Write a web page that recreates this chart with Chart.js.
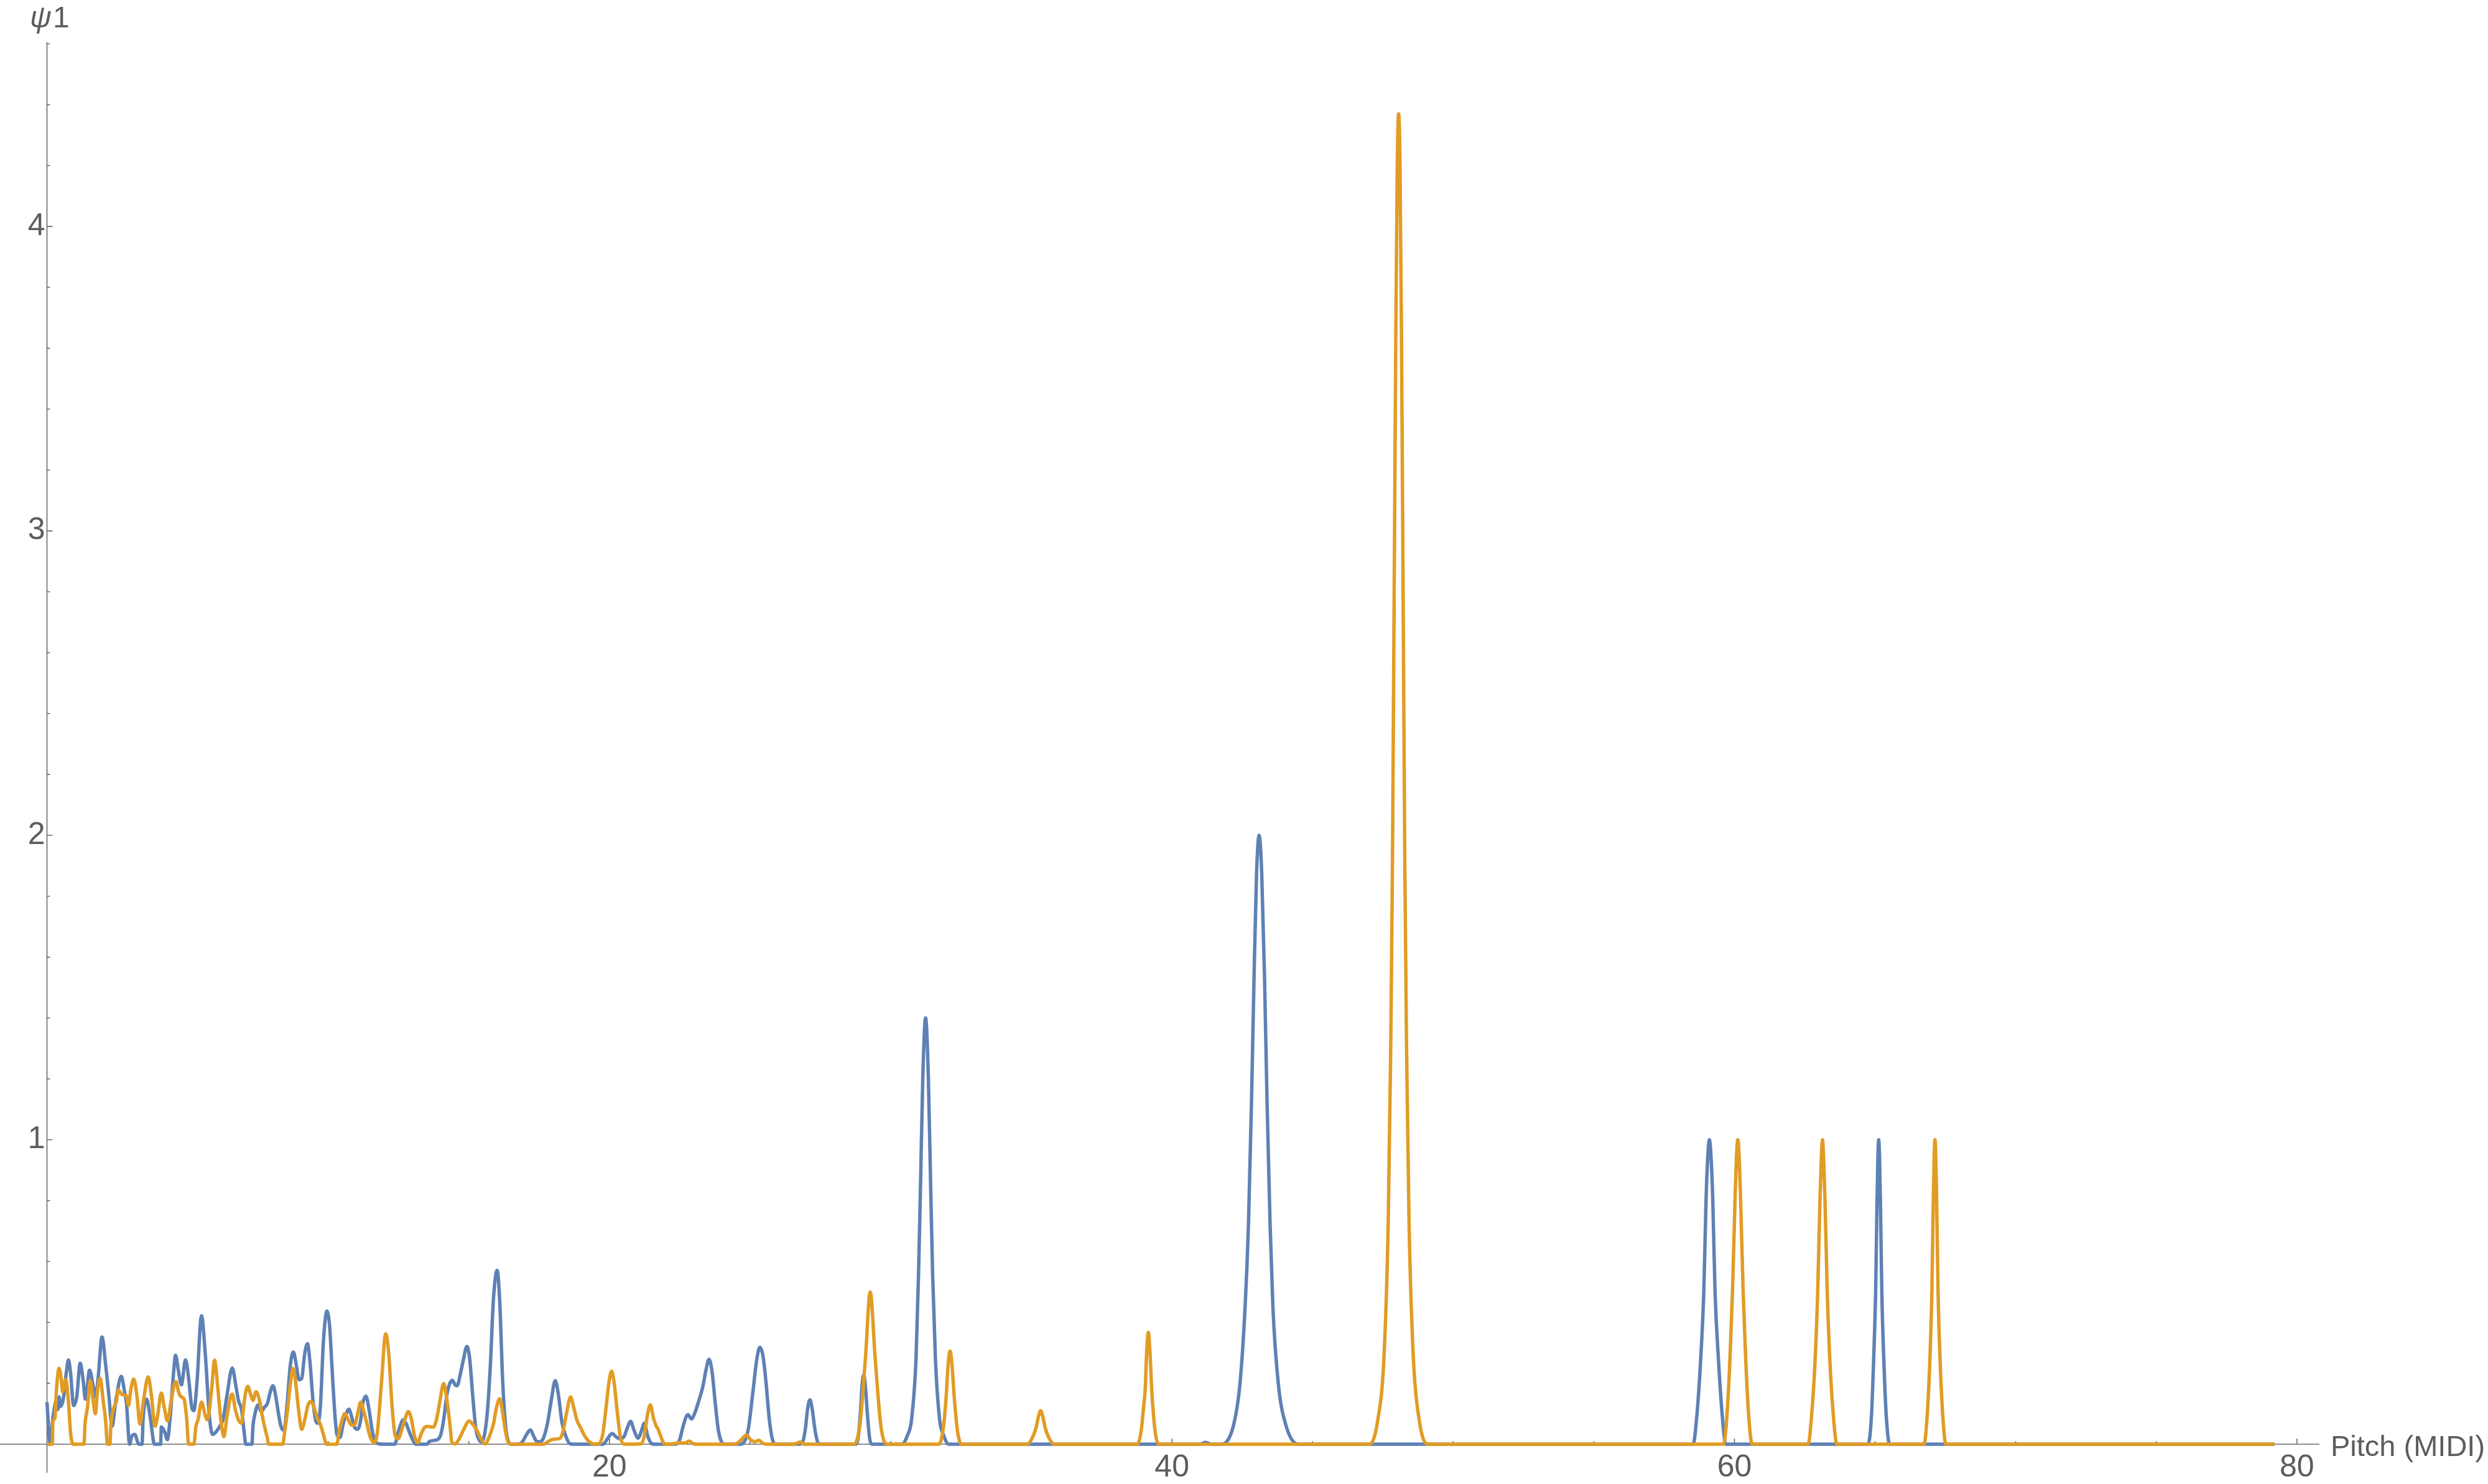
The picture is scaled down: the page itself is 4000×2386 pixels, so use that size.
<!DOCTYPE html>
<html>
<head>
<meta charset="utf-8">
<title>psi1 vs pitch</title>
<script src="https://cdn.jsdelivr.net/npm/chart.js@4.4.0/dist/chart.umd.min.js"></script>
<style>
  html, body { margin: 0; padding: 0; background: #ffffff; }
  #wrap { width: 4000px; height: 2386px; }
</style>
</head>
<body>
<div id="wrap"><canvas id="psi-chart" width="4000" height="2386"></canvas></div>
<script>
// blue series
var blueX = [0, 0.114, 0.21, 0.358, 0.394, 0.431, 0.483, 0.579, 0.689, 0.763, 0.837, 0.947, 1.058, 1.183, 1.279, 1.367,
  1.515, 1.647, 1.721, 1.817, 1.957, 2.09, 2.2, 2.311, 2.458, 2.643, 2.753, 2.827, 2.937, 3.011, 3.122, 3.232, 3.269,
  3.38, 3.417, 3.542, 3.675, 3.822, 4.043, 4.065, 4.191, 4.279, 4.375, 4.485, 4.574, 4.67, 4.78, 4.928, 5.038, 5.149,
  5.223, 5.333, 5.495, 5.628, 5.775, 5.886, 5.997, 6.144, 6.255, 6.402, 6.586, 6.734, 6.807, 6.918, 6.955, 7.029, 7.065,
  7.287, 7.324, 7.397, 7.508, 7.618, 7.729, 7.839, 7.95, 8.038, 8.134, 8.208, 8.319, 8.429, 8.54, 8.65, 8.761, 8.871,
  8.96, 9.056, 9.166, 9.262, 9.351, 9.461, 9.55, 9.623, 9.719, 9.83, 9.955, 10.051, 10.124, 10.235, 10.309, 10.419,
  10.53, 10.641, 10.736, 10.825, 10.935, 11.046, 11.157, 11.23, 11.341, 11.451, 11.562, 11.672, 11.82, 11.93, 12.373,
  12.447, 12.557, 12.668, 12.778, 12.889, 12.999, 13.11, 13.515, 13.589, 13.737, 13.884, 13.995, 14.105, 14.216, 14.326,
  14.415, 14.511, 14.584, 14.695, 14.805, 14.931, 15.026, 15.137, 15.248, 15.358, 15.447, 15.543, 15.653, 15.764, 15.874,
  16.007, 16.095, 16.206, 16.316, 16.427, 16.5, 16.76, 16.906, 17.054, 17.186, 17.312, 17.422, 17.533, 17.643, 17.791,
  17.938, 18.071, 18.196, 18.307, 18.454, 18.602, 18.75, 19.78, 19.929, 20.098, 20.223, 20.371, 20.518, 20.629, 20.754,
  20.872, 21.019, 21.145, 21.24, 21.366, 21.513, 21.62, 22.29, 22.398, 22.508, 22.619, 22.789, 22.914, 23.025, 23.172,
  23.32, 23.43, 23.541, 23.651, 23.762, 23.872, 23.983, 24.093, 24.646, 24.794, 24.941, 25.088, 25.236, 25.346, 25.457,
  25.568, 25.678, 25.789, 25.9, 26.71, 26.857, 26.968, 27.042, 27.13, 27.211, 27.3, 27.411, 27.52, 28.74, 28.84, 28.92,
  28.98, 29.04, 29.1, 29.17, 29.25, 29.34, 30.4, 30.6, 30.74, 30.9, 30.99, 31.06, 31.14, 31.24, 31.34, 31.42, 31.49,
  31.59, 31.74, 31.88, 32.06, 41.0, 41.19, 41.4, 41.76, 42.2, 42.42, 42.6, 42.72, 42.83, 42.92, 43.01, 43.1, 43.19,
  43.29, 43.38, 43.49, 43.59, 43.78, 44.04, 44.49, 58.53, 58.66, 58.8, 58.91, 58.99, 59.05, 59.11, 59.17, 59.23, 59.31,
  59.43, 59.57, 59.69, 64.75, 64.87, 64.95, 65.02, 65.07, 65.1, 65.13, 65.16, 65.19, 65.24, 65.31, 65.4, 65.52, 79.2];
var blueY = [0.138, 0, 0.086, 0.148, 0.114, 0.155, 0.124, 0.148, 0.236, 0.277, 0.236, 0.127, 0.155, 0.266, 0.216, 0.148,
  0.243, 0.189, 0.155, 0.216, 0.352, 0.257, 0.161, 0.059, 0.148, 0.223, 0.175, 0.134, 0, 0.025, 0.032, 0.005, 0,
  0, 0.08, 0.148, 0.086, 0, 0, 0.056, 0.039, 0.015, 0.08, 0.216, 0.292, 0.243, 0.195, 0.277, 0.216, 0.121,
  0.11, 0.202, 0.422, 0.298, 0.093, 0.032, 0.039, 0.059, 0.08, 0.161, 0.25, 0.182, 0.144, 0.114, 0.086, 0.025, 0,
  0, 0.059, 0.1, 0.129, 0.107, 0.121, 0.134, 0.175, 0.192, 0.158, 0.114, 0.059, 0.046, 0.134, 0.257, 0.303, 0.257,
  0.212, 0.216, 0.298, 0.33, 0.27, 0.141, 0.08, 0.069, 0.121, 0.338, 0.437, 0.386, 0.27, 0.1, 0.032, 0.022,
  0.066, 0.1, 0.115, 0.093, 0.056, 0.049, 0.08, 0.134, 0.158, 0.114, 0.046, 0.008, 0.001, 0, 0,
  0.025, 0.059, 0.08, 0.066, 0.039, 0.015, 0, 0, 0.008, 0.012, 0.015, 0.029, 0.08, 0.161, 0.2,
  0.21, 0.195, 0.192, 0.229, 0.277, 0.321, 0.284, 0.161, 0.052, 0.015, 0.008, 0.025, 0.1, 0.257, 0.475,
  0.571, 0.475, 0.202, 0.052, 0.005, 0, 0, 0.008, 0.032, 0.047, 0.025, 0.008, 0.008, 0.018, 0.066,
  0.148, 0.209, 0.155, 0.073, 0.025, 0.001, 0, 0, 0.018, 0.035, 0.025, 0.018, 0.025, 0.052, 0.075,
  0.046, 0.02, 0.046, 0.069, 0.025, 0.001, 0, 0, 0.001, 0.018, 0.059, 0.097, 0.083, 0.1, 0.141,
  0.189, 0.243, 0.279, 0.236, 0.134, 0.046, 0.008, 0, 0, 0.008, 0.052, 0.161, 0.277, 0.318, 0.291,
  0.202, 0.086, 0.018, 0, 0, 0.005, 0.052, 0.114, 0.146, 0.114, 0.052, 0.005, 0, 0, 0.02, 0.1,
  0.19, 0.228, 0.19, 0.1, 0.02, 0, 0, 0.03, 0.08, 0.28, 0.56, 0.85, 1.2, 1.4, 1.2, 0.85, 0.56,
  0.28, 0.08, 0.03, 0, 0, 0.006, 0, 0, 0.066, 0.2, 0.45, 0.72, 1.13, 1.54, 1.88, 2.0, 1.88,
  1.54, 1.13, 0.72, 0.45, 0.2, 0.066, 0, 0, 0.09, 0.28, 0.5, 0.8, 0.94, 1.0, 0.94, 0.8, 0.5,
  0.28, 0.09, 0, 0, 0.09, 0.28, 0.5, 0.8, 0.94, 1.0, 0.94, 0.8, 0.5, 0.28, 0.09, 0, 0];

// orange series
var orangeX = [0, 0.19, 0.21, 0.284, 0.335, 0.431, 0.505, 0.557, 0.667, 0.763, 0.837, 0.925, 1.316, 1.353, 1.441, 1.537,
  1.633, 1.721, 1.795, 1.891, 2.001, 2.09, 2.149, 2.237, 2.274, 2.385, 2.473, 2.532, 2.643, 2.738, 2.812, 2.901, 2.974,
  3.085, 3.195, 3.306, 3.417, 3.601, 3.711, 3.844, 3.933, 4.065, 4.168, 4.286, 4.412, 4.581, 4.692, 4.78, 4.876, 4.965,
  5.038, 5.223, 5.296, 5.37, 5.495, 5.613, 5.702, 5.849, 5.96, 6.07, 6.181, 6.292, 6.402, 6.586, 6.697, 6.807, 6.918,
  6.955, 7.029, 7.139, 7.25, 7.324, 7.434, 7.545, 7.655, 7.766, 7.84, 7.876, 8.392, 8.429, 8.54, 8.65, 8.746, 8.834,
  8.945, 9.056, 9.166, 9.277, 9.387, 9.498, 9.609, 9.719, 9.83, 9.94, 10.309, 10.382, 10.493, 10.589, 10.714, 10.825,
  10.935, 11.046, 11.157, 11.267, 11.378, 11.489, 11.636, 11.746, 11.894, 12.042, 12.152, 12.263, 12.373, 12.484,
  12.631, 12.742, 12.852, 12.963, 13.073, 13.184, 13.295, 13.442, 13.552, 13.737, 13.847, 13.958, 14.105, 14.216,
  14.326, 14.4, 14.511, 14.658, 14.805, 15.011, 15.137, 15.284, 15.432, 15.579, 15.727, 15.874, 15.985, 16.095, 16.184,
  16.295, 16.405, 16.55, 17.66, 17.806, 17.954, 18.101, 18.249, 18.359, 18.47, 18.617, 18.728, 18.839, 18.986, 19.134,
  19.281, 19.429, 19.613, 19.76, 19.871, 19.981, 20.077, 20.166, 20.276, 20.387, 20.498, 20.608, 21.124, 21.234,
  21.345, 21.455, 21.566, 21.66, 21.734, 21.845, 21.955, 22.14, 22.361, 22.508, 22.656, 22.84, 22.988, 23.1, 24.425,
  24.573, 24.72, 24.868, 25.015, 25.162, 25.31, 25.457, 25.57, 26.56, 26.71, 26.784, 26.894, 27.0, 28.68, 28.9, 29.1,
  29.27, 29.45, 29.65, 29.87, 31.7, 31.85, 31.97, 32.04, 32.11, 32.18, 32.26, 32.38, 32.52, 34.86, 35.03, 35.17, 35.25,
  35.33, 35.41, 35.49, 35.63, 35.82, 38.76, 38.9, 39.0, 39.05, 39.1, 39.16, 39.22, 39.28, 39.34, 39.42, 39.54, 47.02,
  47.32, 47.54, 47.69, 47.78, 47.84, 47.9, 47.96, 48.01, 48.06, 48.11, 48.16, 48.22, 48.28, 48.34, 48.43, 48.58, 48.79,
  49.09, 59.61, 59.73, 59.84, 59.93, 60.02, 60.07, 60.12, 60.17, 60.22, 60.31, 60.4, 60.51, 60.63, 62.62, 62.74, 62.87,
  62.96, 63.04, 63.09, 63.13, 63.17, 63.22, 63.3, 63.39, 63.52, 63.64, 66.74, 66.85, 66.95, 67.02, 67.07, 67.1, 67.13,
  67.16, 67.19, 67.24, 67.31, 67.41, 67.52, 79.2];
var orangeY = [0, 0, 0.073, 0.086, 0.175, 0.249, 0.216, 0.172, 0.212, 0.141, 0.039, 0, 0, 0.066, 0.121, 0.209,
  0.148, 0.1, 0.175, 0.216, 0.141, 0.073, 0, 0, 0.066, 0.121, 0.141, 0.178, 0.165, 0.161, 0.161, 0.127, 0.175,
  0.214, 0.161, 0.066, 0.134, 0.221, 0.161, 0.059, 0.093, 0.168, 0.121, 0.076, 0.141, 0.206, 0.168, 0.155, 0.148, 0.086,
  0, 0, 0.059, 0.08, 0.138, 0.1, 0.08, 0.175, 0.276, 0.189, 0.08, 0.025, 0.093, 0.165, 0.114, 0.08, 0.069,
  0.09, 0.15, 0.19, 0.161, 0.144, 0.172, 0.148, 0.093, 0.046, 0.018, 0, 0, 0.025, 0.1, 0.195, 0.249, 0.209,
  0.114, 0.049, 0.08, 0.127, 0.141, 0.121, 0.086, 0.066, 0.032, 0, 0, 0.039, 0.08, 0.1, 0.08, 0.063,
  0.063, 0.1, 0.138, 0.107, 0.066, 0.025, 0.005, 0.039, 0.202, 0.362, 0.298, 0.134, 0.032, 0.018,
  0.052, 0.086, 0.107, 0.08, 0.025, 0.005, 0.032, 0.056, 0.058, 0.056, 0.08, 0.134, 0.199, 0.148,
  0.066, 0.005, 0.001, 0.018, 0.046, 0.076, 0.066, 0.046, 0.018, 0.001, 0.025, 0.066, 0.121, 0.149, 0.114,
  0.046, 0.005, 0, 0, 0.008, 0.015, 0.017, 0.02, 0.046, 0.1, 0.155, 0.121, 0.08, 0.052, 0.025,
  0.008, 0.001, 0.001, 0.032, 0.114, 0.202, 0.24, 0.202, 0.107, 0.025, 0.001, 0, 0.001, 0.025,
  0.093, 0.129, 0.085, 0.06, 0.048, 0.02, 0.001, 0, 0.003, 0.005, 0.003, 0.01, 0.001, 0, 0,
  0.005, 0.018, 0.03, 0.015, 0.008, 0.013, 0.003, 0, 0, 0.005, 0.007, 0.001, 0, 0, 0.06, 0.28,
  0.5, 0.28, 0.06, 0, 0, 0.04, 0.153, 0.26, 0.306, 0.26, 0.153, 0.04, 0, 0, 0.02, 0.055, 0.09,
  0.11, 0.09, 0.055, 0.02, 0, 0, 0.04, 0.13, 0.18, 0.3, 0.367, 0.3, 0.18, 0.1, 0.03, 0, 0,
  0.08, 0.29, 0.73, 1.31, 1.9, 2.78, 3.66, 4.19, 4.37, 4.19, 3.66, 2.78, 1.9, 1.31, 0.73, 0.29, 0.08,
  0, 0, 0.09, 0.28, 0.5, 0.8, 0.94, 1.0, 0.94, 0.8, 0.5, 0.28, 0.09, 0, 0, 0.09, 0.28,
  0.5, 0.8, 0.94, 1.0, 0.94, 0.8, 0.5, 0.28, 0.09, 0, 0, 0.09, 0.28, 0.5, 0.8, 0.94, 1.0,
  0.94, 0.8, 0.5, 0.28, 0.09, 0, 0];

// axis ticks
var xMajorTicks = [20, 40, 60, 80];
var xMinorTicks = [5, 10, 15, 25, 30, 35, 45, 50, 55, 65, 70, 75];
var yMajorTicks = [1, 2, 3, 4];
var yMinorTicks = [0.2, 0.4, 0.6, 0.8, 1.2, 1.4, 1.6, 1.8, 2.2, 2.4, 2.6, 2.8, 3.2, 3.4, 3.6, 3.8, 4.2, 4.4, 4.6];

var axisColor = "#6b6b6b";
var labelColor = "#5c5c5c";
var fontFamily = "'Liberation Sans', Arial, Helvetica, sans-serif";

function toPoints(xs, ys) {
  var pts = [];
  for (let i = 0; i < xs.length; i++) {
    pts.push({x: xs[i], y: ys[i]});
  }
  return pts;
}

// mathematica-like axes crossing at the origin, ticks pointing inward
var originAxes = {
  id: "originAxes",
  beforeDatasetsDraw: function(chart) {
    var c = chart.ctx;
    var xs = chart.scales.x;
    var ys = chart.scales.y;
    var area = chart.chartArea;
    var x0 = xs.getPixelForValue(0);
    var y0 = ys.getPixelForValue(0);
    c.save();
    c.strokeStyle = axisColor;
    c.lineWidth = 1.6;
    c.beginPath();
    c.moveTo(area.left, y0);
    c.lineTo(area.right, y0);
    c.moveTo(x0, area.top);
    c.lineTo(x0, area.bottom);
    xMajorTicks.forEach(function(v) {
      var px = xs.getPixelForValue(v);
      c.moveTo(px, y0);
      c.lineTo(px, y0 - 9);
    });
    xMinorTicks.forEach(function(v) {
      var px = xs.getPixelForValue(v);
      c.moveTo(px, y0);
      c.lineTo(px, y0 - 5);
    });
    yMajorTicks.forEach(function(v) {
      var py = ys.getPixelForValue(v);
      c.moveTo(x0, py);
      c.lineTo(x0 + 9, py);
    });
    yMinorTicks.forEach(function(v) {
      var py = ys.getPixelForValue(v);
      c.moveTo(x0, py);
      c.lineTo(x0 + 5, py);
    });
    c.stroke();

    c.fillStyle = labelColor;
    c.font = "50px " + fontFamily;
    c.textAlign = "center";
    c.textBaseline = "alphabetic";
    xMajorTicks.forEach(function(v) {
      c.fillText(String(v), xs.getPixelForValue(v), y0 + 52);
    });
    c.textAlign = "right";
    c.textBaseline = "middle";
    yMajorTicks.forEach(function(v) {
      c.fillText(String(v), x0 - 3, ys.getPixelForValue(v));
    });

    // axis names
    c.font = "47px " + fontFamily;
    c.textAlign = "left";
    c.textBaseline = "alphabetic";
    c.fillText("Pitch (MIDI)", area.right + 18, y0 + 19);
    c.font = "italic 48px " + fontFamily;
    c.fillText("\u03c8", 48, 44);
    var w = c.measureText("\u03c8").width;
    c.font = "48px " + fontFamily;
    c.fillText("1", 48 + w + 2, 44);
    c.restore();
  }
};

var ctx = document.getElementById("psi-chart").getContext("2d");
var psiChart = new Chart(ctx, {
  type: "line",
  data: {
    datasets: [
      {
        label: "blue",
        data: toPoints(blueX, blueY),
        borderColor: "#5e81b5",
        borderWidth: 5.5,
        pointRadius: 0,
        fill: false,
        cubicInterpolationMode: "monotone",
        order: 2
      },
      {
        label: "orange",
        data: toPoints(orangeX, orangeY),
        borderColor: "#e19c24",
        borderWidth: 5.5,
        pointRadius: 0,
        fill: false,
        cubicInterpolationMode: "monotone",
        order: 1
      }
    ]
  },
  options: {
    responsive: false,
    animation: false,
    devicePixelRatio: 1,
    layout: {
      padding: {left: 0, right: 271, top: 68, bottom: 18}
    },
    plugins: {
      legend: {display: false},
      tooltip: {enabled: false}
    },
    scales: {
      x: {type: "linear", display: false, min: -1.67, max: 80.8, bounds: "data"},
      y: {type: "linear", display: false, min: -0.094, max: 4.605, bounds: "data"}
    }
  },
  plugins: [originAxes]
});
</script>
</body>
</html>
